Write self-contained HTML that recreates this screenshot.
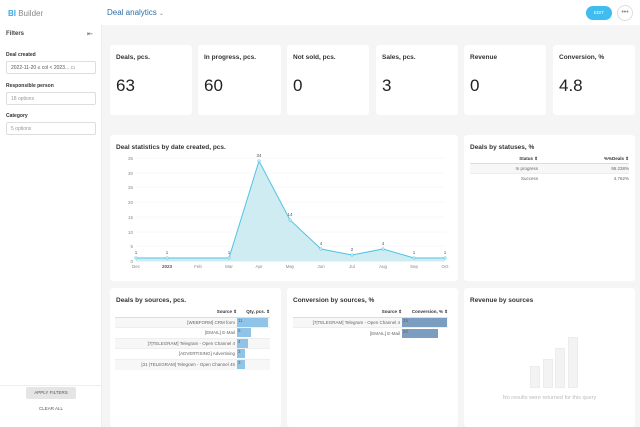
<!DOCTYPE html><html><head><style>
*{box-sizing:border-box;margin:0;padding:0}
body{width:640px;height:427px;overflow:hidden;font-family:"Liberation Sans",sans-serif;background:#f5f5f5;position:relative;color:#333}
.a{position:absolute}
.card{position:absolute;background:#fff;border-radius:3px}
.t{position:absolute;left:6px;top:9px;font-size:6.5px;font-weight:bold;color:#333}
.v{position:absolute;left:6px;top:31px;font-size:17px;color:#222}
.lbl{font-size:5px;color:#333;font-weight:bold;position:absolute;left:6px}
.inp{position:absolute;left:6px;width:90px;height:13px;border:1px solid #ddd;border-radius:2px;font-size:5px;color:#999;padding:3px 4px}
table{border-collapse:collapse;font-size:4.5px;color:#666}
</style></head><body>
<div class="a" style="left:0;top:0;width:640px;height:25px;background:#fff"></div>
<div class="a" style="left:8px;top:9px;font-size:8px;color:#888"><b style="color:#3aa8e6">BI</b> Builder</div>
<div class="a" style="left:107px;top:8px;font-size:8px;color:#2f6ea8">Deal analytics <span style="font-size:6px;color:#888">⌄</span></div>
<div class="a" style="left:586px;top:6px;width:26px;height:14px;border-radius:7px;background:#3fbcf0;color:#fff;font-size:4.5px;text-align:center;line-height:14px">EDIT</div>
<div class="a" style="left:617px;top:5px;width:16px;height:16px;border-radius:8px;border:1px solid #ddd;font-size:7px;color:#888;text-align:center;line-height:13px">•••</div>
<div class="a" style="left:0;top:25px;width:102px;height:402px;background:#fff;border-right:1px solid #eee"></div>
<div class="a" style="left:6px;top:31px;font-size:6px;font-weight:bold;color:#444">Filters</div>
<div class="a" style="left:87px;top:30px;font-size:7px;color:#666">⇤</div>
<div class="lbl" style="top:52px">Deal created</div>
<div class="inp" style="top:61px;color:#555">2022-11-20 ≤ col &lt; 2023... ▭</div>
<div class="lbl" style="top:83px">Responsible person</div>
<div class="inp" style="top:92px">18 options</div>
<div class="lbl" style="top:113px">Category</div>
<div class="inp" style="top:122px">5 options</div>
<div class="a" style="left:0;top:385px;width:101px;height:1px;background:#eee"></div>
<div class="a" style="left:26px;top:387px;width:50px;height:12px;background:#e5e5e5;border-radius:2px;font-size:4.5px;color:#555;text-align:center;line-height:12px">APPLY FILTERS</div>
<div class="a" style="left:26px;top:406px;width:50px;font-size:4.5px;color:#555;text-align:center">CLEAR ALL</div>

<div class="card" style="left:110px;top:45px;width:82px;height:70px"><div class="t">Deals, pcs.</div><div class="v">63</div></div>
<div class="card" style="left:198px;top:45px;width:83px;height:70px"><div class="t">In progress, pcs.</div><div class="v">60</div></div>
<div class="card" style="left:287px;top:45px;width:82px;height:70px"><div class="t">Not sold, pcs.</div><div class="v">0</div></div>
<div class="card" style="left:376px;top:45px;width:82px;height:70px"><div class="t">Sales, pcs.</div><div class="v">3</div></div>
<div class="card" style="left:464px;top:45px;width:82px;height:70px"><div class="t">Revenue</div><div class="v">0</div></div>
<div class="card" style="left:553px;top:45px;width:82px;height:70px"><div class="t">Conversion, %</div><div class="v">4.8</div></div>

<div class="card" style="left:110px;top:135px;width:348px;height:146px"><div class="t">Deal statistics by date created, pcs.</div></div>
<svg class="a" style="left:0;top:0" width="640" height="427" font-family="Liberation Sans" font-size="4.5" fill="#888">
<g stroke="#eef0f3" stroke-width="0.5">
<line x1="136" x2="445" y1="158" y2="158"/><line x1="136" x2="445" y1="173" y2="173"/><line x1="136" x2="445" y1="187" y2="187"/><line x1="136" x2="445" y1="202" y2="202"/><line x1="136" x2="445" y1="217" y2="217"/><line x1="136" x2="445" y1="232" y2="232"/><line x1="136" x2="445" y1="246" y2="246"/></g>
<line x1="136" x2="445" y1="261" y2="261" stroke="#ccc" stroke-width="0.5"/>
<g text-anchor="end"><text x="133" y="160">35</text><text x="133" y="175">30</text><text x="133" y="189">25</text><text x="133" y="204">20</text><text x="133" y="219">15</text><text x="133" y="234">10</text><text x="133" y="248">5</text><text x="133" y="263">0</text></g>
<g text-anchor="middle"><text x="136" y="268">Dec</text><text x="167" y="268" font-weight="bold" fill="#555">2023</text><text x="198" y="268">Feb</text><text x="229" y="268">Mar</text><text x="259" y="268">Apr</text><text x="290" y="268">May</text><text x="321" y="268">Jun</text><text x="352" y="268">Jul</text><text x="383" y="268">Aug</text><text x="414" y="268">Sep</text><text x="445" y="268">Oct</text></g>
<polygon points="136,261 136,258 167,258 229,258 259,161 290,220 321,249 352,255 383,249 414,258 445,258 445,261" fill="#d0ecf3"/>
<polyline points="136,258 167,258 229,258 259,161 290,220 321,249 352,255 383,249 414,258 445,258" fill="none" stroke="#4fc3e3" stroke-width="1"/>
<g fill="#fff" stroke="#4fc3e3" stroke-width="0.6"><circle cx="136" cy="258" r="1.2"/><circle cx="167" cy="258" r="1.2"/><circle cx="229" cy="258" r="1.2"/><circle cx="259" cy="161" r="1.2"/><circle cx="290" cy="220" r="1.2"/><circle cx="321" cy="249" r="1.2"/><circle cx="352" cy="255" r="1.2"/><circle cx="383" cy="249" r="1.2"/><circle cx="414" cy="258" r="1.2"/><circle cx="445" cy="258" r="1.2"/></g>
<g text-anchor="middle" fill="#555"><text x="136" y="254">1</text><text x="167" y="254">1</text><text x="229" y="254">1</text><text x="259" y="157">34</text><text x="290" y="216">14</text><text x="321" y="245">4</text><text x="352" y="251">2</text><text x="383" y="245">4</text><text x="414" y="254">1</text><text x="445" y="254">1</text></g>
</svg>

<div class="card" style="left:464px;top:135px;width:171px;height:146px"><div class="t">Deals by statuses, %</div>
<table class="a" style="left:6px;top:20px;width:159px">
<tr style="font-weight:bold;color:#333;height:8px;border-bottom:1px solid #ddd"><td style="text-align:right;width:68px">Status ⇕</td><td style="text-align:right">%%Deals ⇕</td></tr>
<tr style="background:#f7f7f7;height:10px;border-bottom:1px solid #eee"><td style="text-align:right">In progress</td><td style="text-align:right">95.238%</td></tr>
<tr style="height:10px"><td style="text-align:right">Success</td><td style="text-align:right">4.762%</td></tr></table></div>

<div class="card" style="left:110px;top:288px;width:171px;height:139px"><div class="t">Deals by sources, pcs.</div>
<table class="a" style="left:5px;top:20px;width:155px">
<tr style="font-weight:bold;color:#333;height:9px;border-bottom:1px solid #ddd"><td style="text-align:right">Source ⇕</td><td style="width:33px;text-align:right">Qty, pcs. ⇕</td></tr>
<tr style="background:#f7f7f7;height:10.5px;border-bottom:1px solid #eee"><td style="text-align:right;padding-right:2px">[WEBFORM] CRM form</td><td><div style="background:#8fc4e8;width:31px;height:9px;padding-left:1px">11</div></td></tr>
<tr style="height:10.5px;border-bottom:1px solid #eee"><td style="text-align:right;padding-right:2px">[EMAIL] E-Mail</td><td><div style="background:#8fc4e8;width:14px;height:9px;padding-left:1px">5</div></td></tr>
<tr style="background:#f7f7f7;height:10.5px;border-bottom:1px solid #eee"><td style="text-align:right;padding-right:2px">[7|TELEGRAM] Telegram - Open Channel 4</td><td><div style="background:#8fc4e8;width:11px;height:9px;padding-left:1px">4</div></td></tr>
<tr style="height:10.5px;border-bottom:1px solid #eee"><td style="text-align:right;padding-right:2px">[ADVERTISING] Advertising</td><td><div style="background:#8fc4e8;width:8px;height:9px;padding-left:1px">3</div></td></tr>
<tr style="background:#f7f7f7;height:10.5px"><td style="text-align:right;padding-right:2px">[31 |TELEGRAM] Telegram - Open Channel 45</td><td><div style="background:#8fc4e8;width:8px;height:9px;padding-left:1px">3</div></td></tr></table></div>

<div class="card" style="left:287px;top:288px;width:171px;height:139px"><div class="t">Conversion by sources, %</div>
<table class="a" style="left:6px;top:20px;width:155px">
<tr style="font-weight:bold;color:#333;height:9px;border-bottom:1px solid #ddd"><td style="text-align:right">Source ⇕</td><td style="width:46px;text-align:right">Conversion, % ⇕</td></tr>
<tr style="background:#f7f7f7;height:10.5px;border-bottom:1px solid #eee"><td style="text-align:right;padding-right:2px">[7|TELEGRAM] Telegram - Open Channel 4</td><td><div style="background:#7b9dc0;width:45px;height:9px;padding-left:1px">25</div></td></tr>
<tr style="height:10.5px"><td style="text-align:right;padding-right:2px">[EMAIL] E-Mail</td><td><div style="background:#7b9dc0;width:36px;height:9px;padding-left:1px">20</div></td></tr></table></div>

<div class="card" style="left:464px;top:288px;width:171px;height:139px"><div class="t">Revenue by sources</div>
<div class="a" style="left:66px;top:78px;width:10px;height:22px;background:#f3f3f3;border:1px solid #ececec"></div>
<div class="a" style="left:79px;top:71px;width:10px;height:29px;background:#f3f3f3;border:1px solid #ececec"></div>
<div class="a" style="left:91px;top:60px;width:10px;height:40px;background:#f3f3f3;border:1px solid #ececec"></div>
<div class="a" style="left:104px;top:49px;width:10px;height:51px;background:#f3f3f3;border:1px solid #ececec"></div>
<div class="a" style="left:0;top:107px;width:171px;text-align:center;font-size:5.5px;color:#bbb">No results were returned for this query</div></div>
</body></html>
